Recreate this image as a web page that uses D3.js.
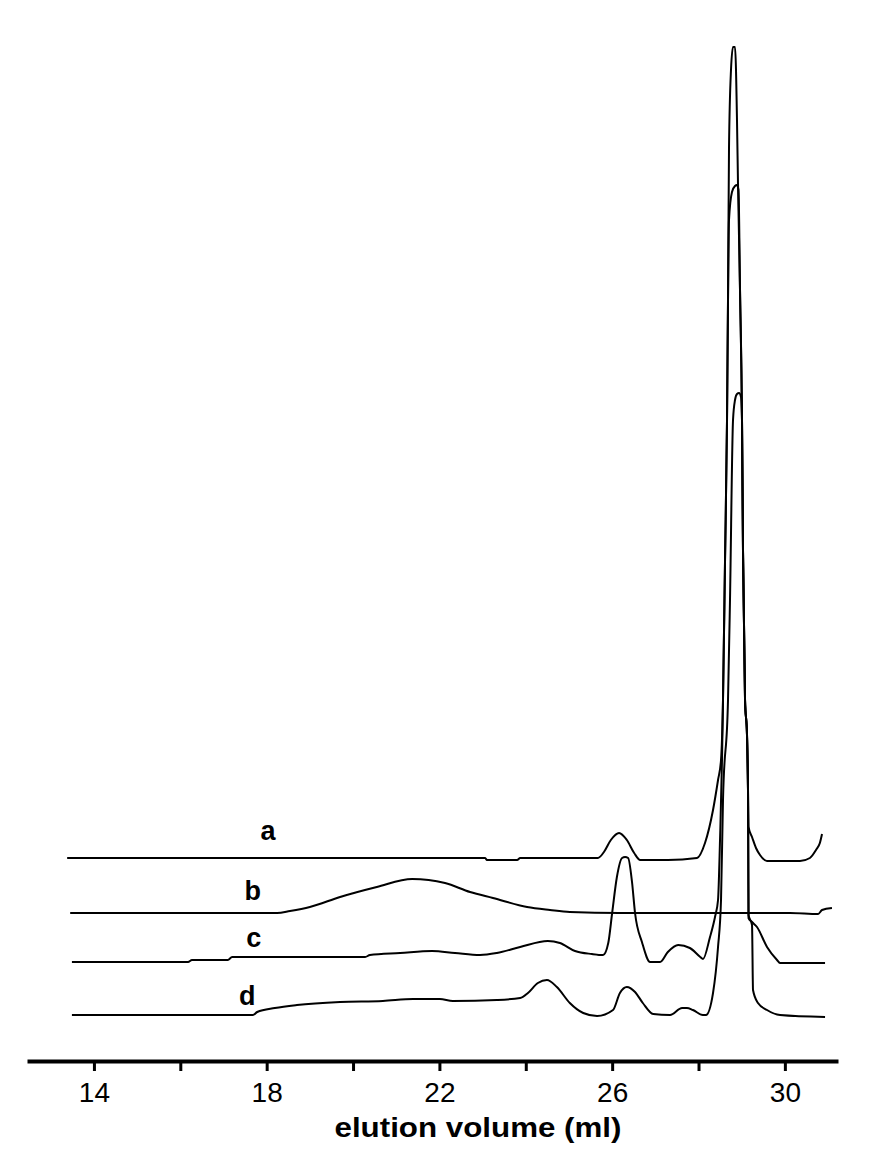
<!DOCTYPE html>
<html>
<head>
<meta charset="utf-8">
<script src="https://cdn.jsdelivr.net/npm/d3@7"></script>
<style>
  body { margin: 0; background: #fff; }
</style>
</head>
<body>
<div id="graf"></div>
<script>
// traces: [elution volume (ml), signal above own baseline]
const traceA = [
  [13.38, 0], [23.06, 0], [23.10, -2], [23.80, -2], [23.87, 0], [25.67, 0],
  [25.81, 6], [25.97, 18], [26.16, 25], [26.34, 18], [26.51, 5], [26.65, -2],
  [27.29, -2], [27.965, 0], [28.150, 15], [28.336, 48], [28.452, 78], [28.521, 98],
  [28.567, 158], [28.614, 298], [28.660, 438], [28.683, 558], [28.706, 710], [28.752, 788],
  [28.799, 811], [28.845, 811], [28.891, 738], [28.914, 675], [28.961, 568], [29.007, 438],
  [29.030, 308], [29.077, 158], [29.123, 123], [29.146, 68], [29.158, 31], [29.239, 21],
  [29.331, 10], [29.424, 3], [29.586, -3], [30.35, -3], [30.58, 0], [30.72, 8],
  [30.81, 15], [30.86, 24]
]
const traceB = [
  [13.45, 0], [18.24, 0], [18.54, 2], [19.0, 6], [19.7, 16], [20.55, 26],
  [21.37, 34], [22.13, 30], [22.71, 21], [23.24, 15], [24.03, 6], [24.56, 3],
  [25.02, 1], [26.18, 0], [30.12, 0], [30.77, -1], [30.86, 3], [31.09, 5]
]
const traceC = [
  [13.49, 0], [16.18, 0], [16.27, 2], [17.1, 2], [17.2, 5], [20.28, 5],
  [20.39, 7], [21.09, 9], [21.83, 11], [22.36, 9], [22.94, 7], [23.33, 9],
  [23.87, 15], [24.51, 21], [24.79, 19], [25.14, 11], [25.53, 8], [25.79, 7],
  [25.91, 19], [26.0, 49], [26.11, 85], [26.23, 104], [26.30, 105], [26.37, 104],
  [26.46, 80], [26.53, 49], [26.69, 20], [26.88, 0], [27.11, 0], [27.29, 10],
  [27.53, 17], [27.80, 14], [28.04, 5], [28.104, 3], [28.266, 25], [28.382, 45],
  [28.452, 62], [28.498, 122], [28.544, 202], [28.567, 262], [28.614, 402], [28.660, 542],
  [28.683, 662], [28.706, 742], [28.775, 770], [28.845, 776], [28.891, 777], [28.926, 772],
  [28.961, 672], [29.007, 542], [29.030, 412], [29.077, 262], [29.123, 227], [29.146, 172],
  [29.153, 102], [29.158, 44], [29.239, 40], [29.354, 35], [29.586, 15], [29.818, 2],
  [29.887, -1], [30.93, -1]
]
const traceD = [
  [13.49, 0], [17.68, 0], [17.78, 3], [18.19, 7], [18.70, 10], [19.70, 13],
  [20.69, 14], [21.39, 16], [22.01, 16], [22.31, 14], [23.33, 15], [23.87, 17],
  [24.05, 22], [24.28, 32], [24.49, 35], [24.72, 28], [25.02, 12], [25.33, 2],
  [25.65, -1], [26.02, 5], [26.18, 22], [26.34, 28], [26.53, 23], [26.71, 12],
  [26.95, 1], [27.34, 0], [27.62, 7], [27.73, 7], [27.87, 5], [28.10, 0],
  [28.173, 0], [28.336, 22], [28.452, 68], [28.521, 115], [28.567, 215], [28.683, 315],
  [28.729, 415], [28.799, 595], [28.845, 615], [28.891, 621], [28.938, 622], [28.984, 618],
  [29.007, 595], [29.030, 465], [29.077, 315], [29.123, 280], [29.146, 225], [29.158, 100],
  [29.239, 90], [29.262, 25], [29.377, 12], [29.586, 5], [29.887, 0], [30.93, -2]
]

const traceNames = ["a", "b", "c", "d"]
const traceOffsets = [187, 132, 83, 30]
const tickValues = [14, 16, 18, 20, 22, 24, 26, 28, 30]
const tickLabels = [14, 18, 22, 26, 30]
const xTitle = "elution volume (ml)"

const traces = [traceA, traceB, traceC, traceD]

// where the letters sit (ml, signal)
const labelPos = [[18.03, 205], [17.68, 145], [17.70, 98], [17.55, 40]]

const ancho = 876
const alto = 1156

const svg = d3.select("#graf")
  .append("svg")
  .attr("width", ancho)
  .attr("height", alto)

svg.append("rect")
  .attr("width", ancho)
  .attr("height", alto)
  .attr("fill", "white")

const x = d3.scaleLinear().domain([12.45, 31.23]).range([27, 838])
const y = d3.scaleLinear().domain([0, 1000]).range([1045, 45])

const line = d3.line()
  .x((d) => x(d[0]))
  .y((d) => y(d[1]))
  .curve(d3.curveMonotoneX)

svg.selectAll("path.trace")
  .data(traces)
  .enter()
  .append("path")
  .attr("class", "trace")
  .attr("d", (d, i) => line(d.map((p) => [p[0], p[1] + traceOffsets[i]])))
  .attr("fill", "none")
  .attr("stroke", "black")
  .attr("stroke-width", 2)
  .attr("stroke-linejoin", "round")

svg.selectAll("text.name")
  .data(traceNames)
  .enter()
  .append("text")
  .attr("class", "name")
  .attr("x", (d, i) => x(labelPos[i][0]))
  .attr("y", (d, i) => y(labelPos[i][1]))
  .attr("text-anchor", "middle")
  .attr("font-family", "Liberation Sans, Arial, sans-serif")
  .attr("font-weight", "bold")
  .attr("font-size", 27)
  .text((d) => d)

// x axis
const axis = d3.axisBottom(x)
  .tickValues(tickValues)
  .tickSizeInner(10)
  .tickSizeOuter(0)
  .tickFormat((d) => (tickLabels.includes(d) ? d : ""))

const gx = svg.append("g")
  .attr("transform", "translate(0, 1061)")
  .call(axis)

gx.select(".domain")
  .attr("stroke", "black")
  .attr("stroke-width", 4)
gx.selectAll(".tick line")
  .attr("stroke", "black")
  .attr("stroke-width", 3)
gx.selectAll(".tick text")
  .attr("y", 41)
  .attr("dy", 0)
  .attr("fill", "black")
  .attr("font-family", "Liberation Sans, Arial, sans-serif")
  .attr("font-size", 28)

svg.append("text")
  .attr("x", 478)
  .attr("y", 1137)
  .attr("text-anchor", "middle")
  .attr("font-family", "Liberation Sans, Arial, sans-serif")
  .attr("font-weight", "bold")
  .attr("font-size", 28)
  .attr("textLength", 287)
  .attr("lengthAdjust", "spacingAndGlyphs")
  .text(xTitle)
</script>
</body>
</html>
